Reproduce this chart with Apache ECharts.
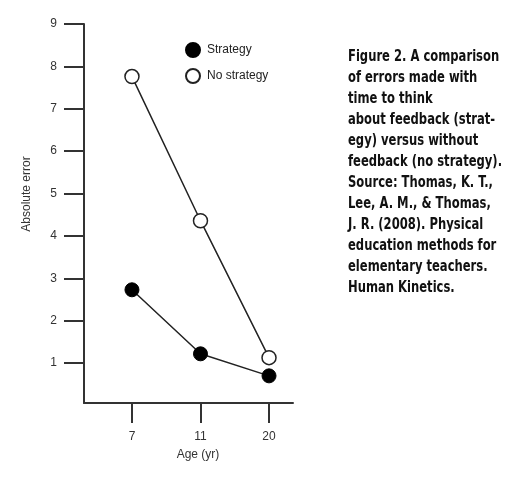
<!DOCTYPE html>
<html>
<head>
<meta charset="utf-8">
<script src="https://cdn.jsdelivr.net/npm/echarts@6/dist/echarts.min.js"></script>
<style>
  html, body { margin: 0; padding: 0; background: #fff; }
  #chart-container { width: 518px; height: 478px; }
</style>
</head>
<body>
<div id="chart-container"></div>
<script>
var dom = document.getElementById("chart-container");
var myChart = echarts.init(dom, null, { renderer: "canvas" });

// data
var ages = ["7", "11", "20"];
var strategy = [2.73, 1.22, 0.7];
var noStrategy = [7.76, 4.36, 1.13];
var yTicks = [1, 2, 3, 4, 5, 6, 7, 8, 9];
var caption = [
  "Figure 2. A comparison",
  "of errors made with",
  "time to think",
  "about feedback (strat-",
  "egy) versus without",
  "feedback (no strategy).",
  "Source: Thomas, K. T.,",
  "Lee, A. M., & Thomas,",
  "J. R. (2008). Physical",
  "education methods for",
  "elementary teachers.",
  "Human Kinetics."
];

var axisColor = "#333";
var font = '"Liberation Sans", Arial, sans-serif';

function toPoints(values) {
  return values.map(function (v, i) { return [i, v]; });
}

var option = {
  backgroundColor: "#fff",
  animation: false,
  grid: { left: 84, right: 225, top: 24, bottom: 75 },
  legend: {
    orient: "vertical",
    left: 180,
    top: 37,
    itemWidth: 14,
    itemHeight: 14,
    itemGap: 10,
    textStyle: { fontFamily: font, fontSize: 12, color: "#222", padding: [0, 0, 0, 2] },
    data: [
      { name: "Strategy", icon: "circle" },
      { name: "No strategy", icon: "circle" }
    ]
  },
  xAxis: {
    type: "value",
    min: -0.7,
    max: 2.35,
    splitLine: { show: false },
    axisLine: { onZero: false, lineStyle: { color: axisColor, width: 2 } },
    axisTick: {
      customValues: [0, 1, 2],
      length: 20,
      lineStyle: { color: axisColor, width: 2 }
    },
    axisLabel: {
      customValues: [0, 1, 2],
      margin: 28,
      fontFamily: font,
      fontSize: 12,
      color: "#333",
      formatter: function (v) { return ages[Math.round(v)]; }
    }
  },
  yAxis: {
    type: "value",
    min: 0.06,
    max: 9,
    splitLine: { show: false },
    axisLine: { show: true, onZero: false, lineStyle: { color: axisColor, width: 2 } },
    axisTick: {
      show: true,
      customValues: yTicks,
      length: 20,
      lineStyle: { color: axisColor, width: 2 }
    },
    axisLabel: {
      customValues: yTicks,
      margin: 27,
      fontFamily: font,
      fontSize: 12,
      color: "#333"
    }
  },
  graphic: [
    {
      type: "text",
      x: 27,
      y: 194,
      rotation: Math.PI / 2,
      style: {
        text: "Absolute error",
        fontFamily: font,
        fontSize: 12,
        fill: "#333",
        align: "center",
        verticalAlign: "middle"
      }
    },
    {
      type: "text",
      x: 198,
      y: 455,
      style: {
        text: "Age (yr)",
        fontFamily: font,
        fontSize: 12,
        fill: "#333",
        align: "center",
        verticalAlign: "middle"
      }
    },
    {
      type: "text",
      x: 348,
      y: 46,
      scaleX: 0.83,
      style: {
        text: caption.join("\n"),
        fontFamily: '"Liberation Sans Narrow", "DejaVu Sans Condensed", sans-serif',
        fontWeight: "bold",
        fontSize: 15.5,
        lineHeight: 21,
        fill: "#111"
      }
    }
  ],
  series: [
    {
      name: "Strategy",
      type: "line",
      data: toPoints(strategy),
      symbol: "circle",
      symbolSize: 14,
      lineStyle: { color: "#222", width: 1.5 },
      itemStyle: { color: "#000", borderColor: "#000", borderWidth: 1 }
    },
    {
      name: "No strategy",
      type: "line",
      data: toPoints(noStrategy),
      symbol: "circle",
      symbolSize: 14,
      lineStyle: { color: "#222", width: 1.5 },
      itemStyle: { color: "#fff", borderColor: "#222", borderWidth: 1.5 }
    }
  ]
};

myChart.setOption(option);
window.addEventListener("resize", myChart.resize);
</script>
</body>
</html>
